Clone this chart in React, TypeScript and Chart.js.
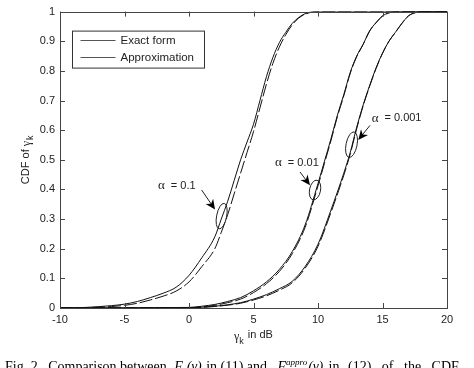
import React, { useEffect, useRef } from "react";
import { Chart, registerables } from "chart.js";

Chart.register(...registerables);

// ---------- data ----------
const X_MIN = -10;
const X_MAX = 20;
const X_STEP = 5;
const Y_MIN = 0;
const Y_MAX = 1;
const Y_STEP = 0.1;

// alpha = 0.1
const exactA1X = [-10, -8, -6, -5, -4, -3, -2, -1, 0, 1, 2, 2.5, 3, 3.5, 4, 4.5, 5, 5.5, 6, 6.5, 7, 7.5, 8, 8.5, 9, 9.5, 10, 20];
const exactA1Y = [0, 0.002, 0.008, 0.013, 0.022, 0.035, 0.05, 0.07, 0.11, 0.17, 0.24, 0.3, 0.36, 0.43, 0.5, 0.56, 0.62, 0.7, 0.78, 0.845, 0.895, 0.93, 0.96, 0.98, 0.993, 0.999, 1, 1];
const approxA1X = [-10, -8, -6, -5, -4, -3, -2, -1, 0, 1, 2, 2.5, 3, 3.5, 4, 4.5, 5, 5.5, 6, 6.5, 7, 7.5, 8, 8.5, 9, 9.5, 10, 20];
const approxA1Y = [0, 0.001, 0.005, 0.009, 0.016, 0.027, 0.04, 0.057, 0.088, 0.14, 0.2, 0.255, 0.315, 0.385, 0.455, 0.525, 0.595, 0.675, 0.755, 0.825, 0.88, 0.922, 0.955, 0.978, 0.991, 0.998, 1, 1];

// alpha = 0.01
const exactA2X = [-10, 0, 1, 2, 3, 4, 5, 6, 7, 8, 9, 10, 10.5, 11, 11.5, 12, 12.5, 13, 13.5, 14, 14.5, 15, 15.5, 16, 16.5, 20];
const exactA2Y = [0, 0.002, 0.006, 0.012, 0.022, 0.035, 0.058, 0.088, 0.13, 0.19, 0.28, 0.42, 0.495, 0.57, 0.65, 0.72, 0.795, 0.85, 0.89, 0.935, 0.963, 0.985, 0.996, 0.999, 1, 1];
const approxA2X = [-10, 0, 1, 2, 3, 4, 5, 6, 7, 8, 9, 10, 10.5, 11, 11.5, 12, 12.5, 13, 13.5, 14, 14.5, 15, 15.5, 16, 16.5, 20];
const approxA2Y = [0, 0.001, 0.004, 0.009, 0.018, 0.03, 0.052, 0.082, 0.123, 0.183, 0.272, 0.412, 0.488, 0.564, 0.645, 0.716, 0.792, 0.848, 0.889, 0.934, 0.962, 0.985, 0.996, 0.999, 1, 1];

// alpha = 0.001
const exactA3X = [-10, 0, 2, 4, 5, 6, 7, 8, 9, 10, 11, 12, 12.5, 13, 13.5, 14, 14.5, 15, 15.5, 16, 16.5, 17, 17.5, 18, 20];
const exactA3Y = [0, 0.001, 0.006, 0.018, 0.03, 0.045, 0.065, 0.09, 0.14, 0.215, 0.33, 0.455, 0.525, 0.61, 0.685, 0.75, 0.81, 0.86, 0.9, 0.93, 0.96, 0.985, 0.996, 1, 1];
const approxA3X = [-10, 0, 2, 4, 5, 6, 7, 8, 9, 10, 11, 12, 12.5, 13, 13.5, 14, 14.5, 15, 15.5, 16, 16.5, 17, 17.5, 18, 20];
const approxA3Y = [0, 0.001, 0.005, 0.016, 0.027, 0.041, 0.06, 0.085, 0.134, 0.208, 0.322, 0.448, 0.52, 0.605, 0.682, 0.748, 0.808, 0.859, 0.9, 0.93, 0.96, 0.985, 0.996, 1, 1];

const LEGEND_LABELS = ["Exact form", "Approximation"];

// annotations (data units)
const ANNOT_TEXT = ["= 0.1", "= 0.01", "= 0.001"];
const ANNOT_LABEL_X = [-2.4, 6.67, 14.16];
const ANNOT_LABEL_Y = [0.413, 0.489, 0.64];
const ANNOT_ELL_X = [2.53, 9.77, 12.6];
const ANNOT_ELL_Y = [0.31, 0.398, 0.551];
const ANNOT_ARROW_FROM_X = [0.98, 8.6, 14.03];
const ANNOT_ARROW_FROM_Y = [0.398, 0.459, 0.616];
const ANNOT_ARROW_TO_X = [2.02, 9.38, 13.12];
const ANNOT_ARROW_TO_Y = [0.332, 0.414, 0.567];

// ---------- styles ----------
const SANS = "'Liberation Sans', Arial, sans-serif";
const SERIF = "'Liberation Serif', 'Times New Roman', serif";
const LINE = "#111";
const AXIS = "#444";
const TEXT = "#222";
const ELL_RX = [5, 5.5, 5.5];
const ELL_RY = [13, 10, 13];

const toPts = (xs: number[], ys: number[]) => xs.map((x, i) => ({ x, y: ys[i] }));

function drawRuns(ctx: CanvasRenderingContext2D, runs: { t: string; font: string; dy?: number; dx?: number }[], x: number, y: number, align: "left" | "center") {
  let total = 0;
  runs.forEach((r) => {
    ctx.font = r.font;
    total += ctx.measureText(r.t).width + (r.dx || 0);
  });
  let cx = align === "center" ? x - total / 2 : x;
  runs.forEach((r) => {
    ctx.font = r.font;
    cx += r.dx || 0;
    ctx.fillText(r.t, cx, y + (r.dy || 0));
    cx += ctx.measureText(r.t).width;
  });
}

const decorPlugin = {
  id: "decor",
  afterDatasetsDraw(chart: any) {
    const ctx: CanvasRenderingContext2D = chart.ctx;
    const { left, right, top, bottom } = chart.chartArea;
    const xs = chart.scales.x;
    const ys = chart.scales.y;
    ctx.save();

    // frame
    ctx.strokeStyle = AXIS;
    ctx.lineWidth = 1;
    ctx.strokeRect(Math.round(left) + 0.5, Math.round(top) + 0.5, Math.round(right - left), Math.round(bottom - top));

    // inward ticks
    const tl = 5;
    ctx.beginPath();
    for (let v = X_MIN; v <= X_MAX + 1e-9; v += X_STEP) {
      const p = Math.round(xs.getPixelForValue(v)) + 0.5;
      ctx.moveTo(p, bottom);
      ctx.lineTo(p, bottom - tl);
      ctx.moveTo(p, top);
      ctx.lineTo(p, top + tl);
    }
    for (let i = 0; i <= Math.round((Y_MAX - Y_MIN) / Y_STEP); i++) {
      const v = Y_MIN + i * Y_STEP;
      const p = Math.round(ys.getPixelForValue(v)) + 0.5;
      ctx.moveTo(left, p);
      ctx.lineTo(left + tl, p);
      ctx.moveTo(right, p);
      ctx.lineTo(right - tl, p);
    }
    ctx.stroke();

    // legend
    const lx = left + 12.5;
    const ly = top + 19.5;
    ctx.fillStyle = "#fff";
    ctx.fillRect(lx, ly, 132, 37);
    ctx.strokeStyle = "#333";
    ctx.strokeRect(lx, ly, 132, 37);
    ctx.font = `11.5px ${SANS}`;
    ctx.textBaseline = "middle";
    ctx.textAlign = "left";
    LEGEND_LABELS.forEach((lab, i) => {
      const yy = Math.round(ly + 9 + i * 17) + 0.5;
      ctx.strokeStyle = "#555";
      ctx.beginPath();
      ctx.moveTo(lx + 8, yy);
      ctx.lineTo(lx + 43, yy);
      ctx.stroke();
      ctx.fillStyle = TEXT;
      ctx.fillText(lab, lx + 48, yy);
    });

    // annotations
    ANNOT_TEXT.forEach((t, i) => {
      const ex = xs.getPixelForValue(ANNOT_ELL_X[i]);
      const ey = ys.getPixelForValue(ANNOT_ELL_Y[i]);
      ctx.strokeStyle = "#222";
      ctx.lineWidth = 1;
      ctx.beginPath();
      ctx.ellipse(ex, ey, ELL_RX[i], ELL_RY[i], 0.2, 0, Math.PI * 2);
      ctx.stroke();

      const fx = xs.getPixelForValue(ANNOT_ARROW_FROM_X[i]);
      const fy = ys.getPixelForValue(ANNOT_ARROW_FROM_Y[i]);
      const tx = xs.getPixelForValue(ANNOT_ARROW_TO_X[i]);
      const ty = ys.getPixelForValue(ANNOT_ARROW_TO_Y[i]);
      const ang = Math.atan2(ty - fy, tx - fx);
      const hl = 10;
      const hw = 4.5;
      ctx.beginPath();
      ctx.moveTo(fx, fy);
      ctx.lineTo(tx - Math.cos(ang) * hl * 0.6, ty - Math.sin(ang) * hl * 0.6);
      ctx.stroke();
      ctx.fillStyle = "#000";
      ctx.beginPath();
      ctx.moveTo(tx, ty);
      ctx.lineTo(tx - Math.cos(ang) * hl - Math.sin(ang) * hw, ty - Math.sin(ang) * hl + Math.cos(ang) * hw);
      ctx.lineTo(tx - Math.cos(ang) * hl * 0.7, ty - Math.sin(ang) * hl * 0.7);
      ctx.lineTo(tx - Math.cos(ang) * hl + Math.sin(ang) * hw, ty - Math.sin(ang) * hl - Math.cos(ang) * hw);
      ctx.closePath();
      ctx.fill();

      const lxp = xs.getPixelForValue(ANNOT_LABEL_X[i]);
      const lyp = ys.getPixelForValue(ANNOT_LABEL_Y[i]);
      ctx.fillStyle = TEXT;
      ctx.textBaseline = "middle";
      drawRuns(ctx, [
        { t: "\u03b1", font: `13px ${SERIF}` },
        { t: t, font: `11px ${SANS}`, dx: 6 },
      ], lxp, lyp, "left");
    });

    // axis titles
    ctx.fillStyle = TEXT;
    ctx.textBaseline = "alphabetic";
    drawRuns(ctx, [
      { t: "\u03b3", font: `12px ${SERIF}` },
      { t: "k", font: `9px ${SANS}`, dy: 4 },
      { t: "in dB", font: `11px ${SANS}`, dx: 4, dy: -2 },
    ], (left + right) / 2, bottom + 32, "center");

    ctx.save();
    ctx.translate(left - 35, (top + bottom) / 2);
    ctx.rotate(-Math.PI / 2);
    drawRuns(ctx, [
      { t: "CDF of ", font: `11px ${SANS}` },
      { t: "\u03b3", font: `12px ${SERIF}`, dy: 1 },
      { t: "k", font: `9px ${SANS}`, dy: 4, dx: 1 },
    ], 0, 4, "center");
    ctx.restore();

    // caption (justified line, cut by the picture's edges)
    ctx.fillStyle = "#000";
    ctx.textBaseline = "alphabetic";
    const reg = `14px ${SERIF}`;
    const it = `italic 14px ${SERIF}`;
    const sm = `italic 9px ${SERIF}`;
    drawRuns(ctx, [
      { t: "Fig. 2.  Comparison between ", font: reg },
      { t: "F", font: it, dx: 4 },
      { t: "k", font: sm, dy: 4 },
      { t: "(\u03b3)", font: it, dx: 0 },
      { t: " in (11) and ", font: reg, dx: 1 },
      { t: "F", font: it, dx: 7 },
      { t: "appro", font: sm, dy: -6 },
      { t: "(\u03b3)", font: it, dx: 1 },
      { t: " in", font: reg, dx: 2 },
      { t: " (12)", font: reg, dx: 5 },
      { t: " of", font: reg, dx: 7 },
      { t: " the", font: reg, dx: 7 },
      { t: " CDF", font: reg, dx: 7 },
    ], 5, 371, "left");

    ctx.restore();
  },
};

export default function App() {
  const ref = useRef<HTMLCanvasElement | null>(null);
  useEffect(() => {
    if (!ref.current) return;
    const mk = (label: string, xs: number[], ys: number[], dash: number[]) => ({
      label,
      data: toPts(xs, ys),
      borderColor: LINE,
      borderWidth: 1,
      borderDash: dash,
      pointRadius: 0,
      fill: false,
      cubicInterpolationMode: "monotone" as const,
    });
    const chart = new Chart(ref.current, {
      type: "line",
      data: {
        datasets: [
          mk("Exact form", exactA1X, exactA1Y, []),
          mk("Approximation", approxA1X, approxA1Y, [13, 3]),
          mk("Exact form", exactA2X, exactA2Y, []),
          mk("Approximation", approxA2X, approxA2Y, [13, 3]),
          mk("Exact form", exactA3X, exactA3Y, []),
          mk("Approximation", approxA3X, approxA3Y, [13, 3]),
        ],
      },
      options: {
        animation: false,
        responsive: false,
        layout: { padding: { left: 0, right: 27, top: 3, bottom: 0 } },
        plugins: { legend: { display: false }, tooltip: { enabled: false } },
        scales: {
          x: {
            type: "linear",
            min: X_MIN,
            max: X_MAX,
            ticks: {
              stepSize: X_STEP,
              autoSkip: false,
              maxRotation: 0,
              padding: 5,
              color: TEXT,
              font: { family: SANS, size: 11 },
            },
            grid: { display: false, drawTicks: false },
            border: { display: false },
            afterFit: (s: any) => {
              s.height = 60;
            },
          },
          y: {
            type: "linear",
            min: Y_MIN,
            max: Y_MAX,
            ticks: {
              stepSize: Y_STEP,
              autoSkip: false,
              padding: 5,
              color: TEXT,
              font: { family: SANS, size: 11 },
              callback: (v: any) => String(Math.round(Number(v) * 10) / 10),
            },
            grid: { display: false, drawTicks: false },
            border: { display: false },
            afterFit: (s: any) => {
              s.width = 60;
            },
          },
        },
      },
      plugins: [decorPlugin],
    });
    return () => chart.destroy();
  }, []);
  return (
    <div style={{ position: "absolute", left: 0, top: 0, width: 474, height: 368, background: "#fff", overflow: "hidden" }}>
      <canvas ref={ref} width={474} height={368} style={{ display: "block" }} />
    </div>
  );
}
